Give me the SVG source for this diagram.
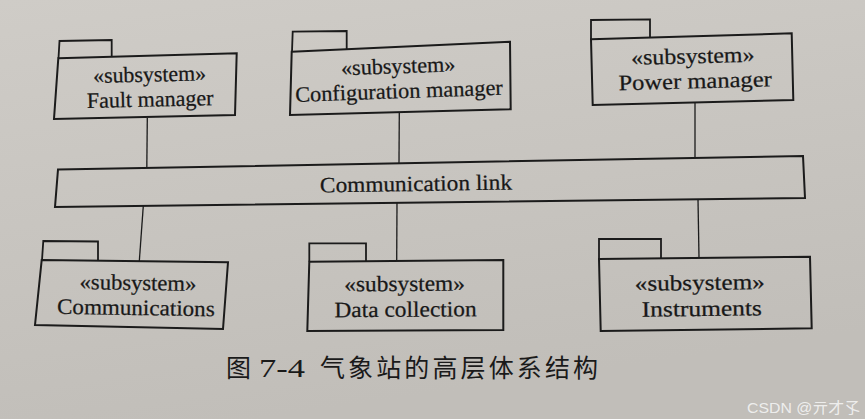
<svg xmlns="http://www.w3.org/2000/svg" width="865" height="419" viewBox="0 0 865 419">
  <defs>
    <linearGradient id="paper" x1="0" y1="0" x2="0.3" y2="1">
      <stop offset="0" stop-color="#cfccc7"/>
      <stop offset="1" stop-color="#c1beb9"/>
    </linearGradient>
    <style>
      .box { fill: none; stroke: #1b1b1b; stroke-width: 2; stroke-linejoin: miter; }
      .tab { fill: none; stroke: #1b1b1b; stroke-width: 1.8; }
      .conn { fill: none; stroke: #1b1b1b; stroke-width: 1.3; }
      .lbl { font-family: "Liberation Serif", "Times New Roman", serif; font-size: 22px; fill: #181818; stroke: #181818; stroke-width: 0.25; text-anchor: middle; }
      .cap { font-family: "Liberation Serif", "Noto Sans CJK SC", serif; font-size: 25px; fill: #1a1a1a; }
      .cjk { font-family: "Noto Sans CJK SC", sans-serif; }
      .wm { font-family: "Liberation Sans", "Noto Sans CJK SC", sans-serif; font-size: 15px; fill: #f4f4f4; fill-opacity: 0.9; }
    </style>
  </defs>

  <rect x="0" y="0" width="865" height="419" fill="url(#paper)"/>

  <g id="connectors">
    <line class="conn" x1="147.3" y1="118" x2="146.8" y2="168"/>
    <line class="conn" x1="399.3" y1="112.4" x2="399" y2="163.3"/>
    <line class="conn" x1="695" y1="102.4" x2="695" y2="158"/>
    <line class="conn" x1="143.3" y1="205.9" x2="139.3" y2="261.2"/>
    <line class="conn" x1="397" y1="202.9" x2="396.7" y2="260.9"/>
    <line class="conn" x1="698" y1="199.3" x2="699" y2="257.9"/>
  </g>

  <g id="fault-manager">
    <path class="tab" d="M58.5,58.2 L59.5,41 L111.7,40 L111.7,56.8"/>
    <path class="box" d="M58.3,58.3 L236.7,53.3 L235,115 L54,119 Z"/>
    <g transform="rotate(-1.3 150 94)">
      <text class="lbl" x="150" y="81.7" textLength="113" lengthAdjust="spacingAndGlyphs">«subsystem»</text>
      <text class="lbl" x="150" y="106.5" textLength="126.7" lengthAdjust="spacingAndGlyphs">Fault manager</text>
    </g>
  </g>

  <g id="configuration-manager">
    <path class="tab" d="M292,51.6 L292.7,31.7 L346.7,31 L346.7,49.2"/>
    <path class="box" d="M291.7,51.7 L510,41.7 L510.7,109.3 L290,115 Z"/>
    <g transform="rotate(-2 399 86)">
      <text class="lbl" x="398.8" y="73.3" textLength="114.3" lengthAdjust="spacingAndGlyphs">«subsystem»</text>
      <text class="lbl" x="398.8" y="98.3" textLength="207.7" lengthAdjust="spacingAndGlyphs">Configuration manager</text>
    </g>
  </g>

  <g id="power-manager">
    <path class="tab" d="M591,39.2 L591,20 L650,19.3 L650,37.5"/>
    <path class="box" d="M591,39.3 L791.7,33.3 L793.3,100 L592.7,105 Z"/>
    <g transform="rotate(-1.5 694 76)">
      <text class="lbl" x="693.3" y="63.3" textLength="123.3" lengthAdjust="spacingAndGlyphs">«subsystem»</text>
      <text class="lbl" x="695" y="88.3" textLength="153.3" lengthAdjust="spacingAndGlyphs">Power manager</text>
    </g>
  </g>

  <g id="communication-link">
    <path class="box" d="M58,169.5 L803,156 L805,198 L55,207 Z"/>
    <text class="lbl" x="416" y="191" textLength="192" lengthAdjust="spacingAndGlyphs" transform="rotate(-0.9 416 184)">Communication link</text>
  </g>

  <g id="communications">
    <path class="tab" d="M42,260 L43.3,241 L98,241.5 L98,260.7"/>
    <path class="box" d="M41.7,260 L228,262.3 L223,329 L35,325 Z"/>
    <g transform="rotate(0.9 137 303)">
      <text class="lbl" x="137.7" y="290" textLength="116.7" lengthAdjust="spacingAndGlyphs">«subsystem»</text>
      <text class="lbl" x="136" y="315" textLength="157.7" lengthAdjust="spacingAndGlyphs">Communications</text>
    </g>
  </g>

  <g id="data-collection">
    <path class="tab" d="M309.3,261.6 L309.3,243.3 L366,243.3 L366,261.2"/>
    <path class="box" d="M309.3,261.7 L503.3,260 L503.3,330 L307.3,331 Z"/>
    <g transform="rotate(-0.4 405 304)">
      <text class="lbl" x="404.7" y="291" textLength="120.7" lengthAdjust="spacingAndGlyphs">«subsystem»</text>
      <text class="lbl" x="405.5" y="316.7" textLength="142.3" lengthAdjust="spacingAndGlyphs">Data collection</text>
    </g>
  </g>

  <g id="instruments">
    <path class="tab" d="M599,258.9 L599,239 L661,239 L661,258.3"/>
    <path class="box" d="M599,259 L810,256.7 L811.7,328.3 L600.7,331 Z"/>
    <g transform="rotate(-0.7 701 303)">
      <text class="lbl" x="700" y="290" textLength="130" lengthAdjust="spacingAndGlyphs">«subsystem»</text>
      <text class="lbl" x="701.7" y="316" textLength="120" lengthAdjust="spacingAndGlyphs">Instruments</text>
    </g>
  </g>

  <g id="caption">
    <text class="cap" y="377"><tspan class="cjk" x="226">图</tspan><tspan x="259" textLength="46" lengthAdjust="spacingAndGlyphs">7-4</tspan><tspan class="cjk" x="320" textLength="278">气象站的高层体系结构</tspan></text>
  </g>

  <text class="wm" x="747" y="413" textLength="113" lengthAdjust="spacingAndGlyphs">CSDN @亓才孓</text>
</svg>
